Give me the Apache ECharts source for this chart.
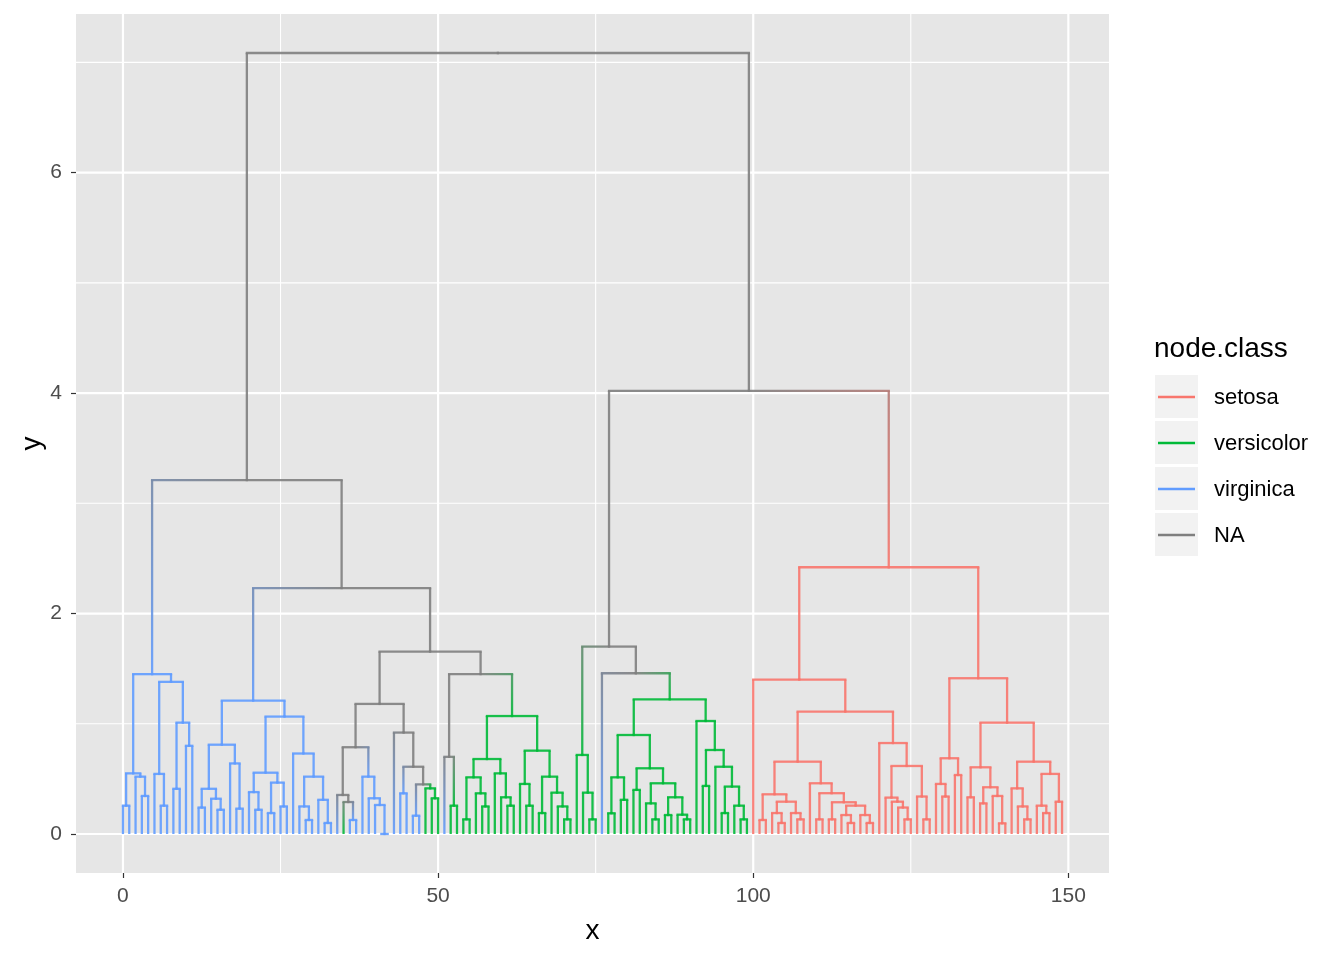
<!DOCTYPE html>
<html><head><meta charset="utf-8">
<script src="https://cdn.jsdelivr.net/npm/echarts@6/dist/echarts.min.js"></script>
<style>html,body{margin:0;padding:0;background:#fff}#c{width:1344px;height:960px}</style>
</head><body><div id="c"></div>
<script>
// class names and colours (ggplot default hues, NA = grey50)
const classNames = ['setosa','versicolor','virginica','NA'];
const classColors = ['#F8766D','#00BA38','#619CFF','#7F7F7F'];
const xTicks = [0, 50, 100, 150];
const yTicks = [0, 2, 4, 6];
const xMinor = [25, 75, 125];
const yMinor = [1, 3, 5, 7];
// species of each leaf in display order: 0 setosa, 1 versicolor, 2 virginica
const leafClass = [
 2,2,2,2,2,2,2,2,2,2, 2,2,2,2,2,2,2,2,2,2,
 2,2,2,2,2,2,2,2,2,2, 2,2,2,2,2,1,2,2,2,2,
 2,2,2,2,2,2,2,2,1,1, 1,2,1,1,1,1,1,1,1,1,
 1,1,1,1,1,1,1,1,1,1, 1,1,1,1,1,1,2,1,1,1,
 1,1,1,1,1,1,1,1,1,1, 1,1,1,1,1,1,1,1,1,1,
 0,0,0,0,0,0,0,0,0,0, 0,0,0,0,0,0,0,0,0,0,
 0,0,0,0,0,0,0,0,0,0, 0,0,0,0,0,0,0,0,0,0,
 0,0,0,0,0,0,0,0,0,0, 0,0,0,0,0,0,0,0,0,0
];
// merges: [child A, child B, height]; numbers are leaves, 'mK' is the K-th merge
const merges = [
 [0,1,0.257],[3,4,0.345],[2,'m2',0.52],['m1','m3',0.55],[6,7,0.257],
 [5,'m5',0.545],[8,9,0.41],[10,11,0.80],['m7','m8',1.01],['m6','m9',1.38],
 ['m4','m10',1.45],[12,13,0.24],[15,16,0.22],[14,'m13',0.32],['m12','m14',0.41],
 [18,19,0.23],[17,'m16',0.64],['m15','m17',0.81],[21,22,0.22],[20,'m19',0.38],
 [23,24,0.19],[25,26,0.25],['m21','m22',0.466],['m20','m23',0.556],[29,30,0.127],
 [28,'m25',0.25],[32,33,0.10],[31,'m27',0.31],['m26','m28',0.52],[27,'m29',0.73],
 ['m24','m30',1.065],['m18','m31',1.21],[36,37,0.127],[35,'m33',0.29],[34,'m34',0.354],
 [41,42,0],[40,'m36',0.263],[39,'m37',0.324],[38,'m38',0.52],['m35','m39',0.787],
 [44,45,0.369],[46,47,0.166],[49,50,0.324],[48,'m43',0.414],['m42','m44',0.45],
 ['m41','m45',0.61],[43,'m46',0.92],['m40','m47',1.18],[52,53,0.257],[51,'m49',0.70],
 [54,55,0.133],[57,58,0.25],[56,'m52',0.369],['m51','m53',0.514],[61,62,0.257],
 [60,'m55',0.333],[59,'m56',0.55],['m54','m57',0.68],[64,65,0.257],[63,'m59',0.454],
 [66,67,0.19],[70,71,0.133],[69,'m62',0.25],[68,'m63',0.375],['m61','m64',0.52],
 ['m60','m65',0.756],['m58','m66',1.07],['m50','m67',1.45],['m48','m68',1.655],['m32','m69',2.23],
 ['m11','m70',3.21],[74,75,0.133],[73,'m72',0.375],[72,'m73',0.717],[77,78,0.188],
 [79,80,0.31],['m75','m76',0.514],[81,82,0.40],[84,85,0.133],[83,'m79',0.278],
 [86,87,0.172],[89,90,0.133],[88,'m82',0.175],['m81','m83',0.333],['m80','m84',0.46],
 ['m78','m85',0.596],['m77','m86',0.898],[92,93,0.436],[95,96,0.19],[98,99,0.133],
 [97,'m90',0.257],['m89','m91',0.43],[94,'m92',0.61],['m88','m93',0.762],[91,'m94',1.025],
 ['m87','m95',1.222],[76,'m96',1.458],['m74','m97',1.70],[101,102,0.127],[104,105,0.10],
 [103,'m100',0.19],[107,108,0.133],[106,'m102',0.19],['m101','m103',0.293],['m99','m104',0.36],
 [110,111,0.133],[112,113,0.133],[115,116,0.10],[114,'m108',0.172],[118,119,0.10],
 [117,'m110',0.172],['m109','m111',0.257],['m107','m112',0.288],['m106','m113',0.37],[109,'m114',0.46],
 ['m105','m115',0.656],[124,125,0.133],[123,'m117',0.24],[122,'m118',0.293],[121,'m119',0.33],
 [127,128,0.133],[126,'m121',0.34],['m120','m122',0.617],[120,'m123',0.825],['m116','m124',1.11],
 [100,'m125',1.40],[130,131,0.34],[129,'m127',0.454],[132,133,0.535],['m128','m129',0.687],
 [134,135,0.333],[136,137,0.278],[139,140,0.097],[138,'m133',0.345],['m132','m134',0.424],
 ['m131','m135',0.605],[143,144,0.133],[142,'m137',0.25],[141,'m138',0.414],[146,147,0.19],
 [145,'m140',0.257],[148,149,0.293],['m141','m142',0.545],['m139','m143',0.656],['m136','m144',1.01],
 ['m130','m145',1.413],['m126','m146',2.42],['m98','m147',4.02],['m71','m148',7.085]
];

// ---- build node positions (leaf x = order, node x = mean of children) ----
const nodes = [];
function getNode(ref){
  if (typeof ref === 'number') return {x: ref, h: 0, cls: leafClass[ref]};
  return nodes[parseInt(ref.slice(1), 10) - 1];
}
const edges = [];
merges.forEach(function(m){
  const a = getNode(m[0]), b = getNode(m[1]);
  const cls = (a.cls === b.cls && a.cls !== 3) ? a.cls : 3;
  const node = {x: (a.x + b.x) / 2, h: m[2], cls: cls};
  nodes.push(node);
  [a, b].forEach(function(c){ edges.push([node.x, node.h, c.x, c.h, node.cls, c.cls]); });
});

function hexToRgb(h){ return [1,3,5].map(function(i){ return parseInt(h.substr(i,2),16); }); }
function mix(a, b, t){
  const A = hexToRgb(a), B = hexToRgb(b);
  return 'rgb(' + A.map(function(v,i){ return Math.round(v + (B[i]-v)*t); }).join(',') + ')';
}
function strokeFor(p, q, ca, cb){
  const d = Math.abs(p[0]-q[0]) + Math.abs(p[1]-q[1]);
  if (ca === cb || d < 0.5) return cb;
  return new echarts.graphic.LinearGradient(p[0], p[1], q[0], q[1],
    [{offset:0, color:ca},{offset:1, color:cb}], true);
}

const gridLines = [];
xTicks.forEach(function(v){ gridLines.push([0, v, 1]); });
xMinor.forEach(function(v){ gridLines.push([0, v, 0]); });
yTicks.forEach(function(v){ gridLines.push([1, v, 1]); });
yMinor.forEach(function(v){ gridLines.push([1, v, 0]); });

const X_MIN = -7.45, X_MAX = 156.45, Y_MIN = -0.354, Y_MAX = 7.439;
const FONT = 'Liberation Sans, Arial, sans-serif';

const chart = echarts.init(document.getElementById('c'), null, {renderer: 'canvas'});

const graphic = [{
  type: 'text', left: 1154, top: 335,
  style: {text: 'node.class', fontSize: 28, fill: '#000', fontFamily: FONT}
}];
classNames.forEach(function(name, i){
  const cy = 397 + 46 * i;
  graphic.push({type:'rect', shape:{x:1155, y:cy-22, width:43, height:43}, style:{fill:'#F2F2F2'}});
  graphic.push({type:'line', shape:{x1:1158, y1:cy, x2:1195, y2:cy}, style:{stroke:classColors[i], lineWidth:2.3}});
  graphic.push({type:'text', x:1214, y:cy + 1, style:{text:name, fontSize:22, fill:'#000', fontFamily:FONT, verticalAlign:'middle'}});
});

chart.setOption({
  animation: false,
  graphic: graphic,
  grid: {left: 76, right: 235, top: 14, bottom: 87, show: true, backgroundColor: '#E6E6E6', borderWidth: 0, containLabel: false},
  xAxis: {
    type: 'value', min: X_MIN, max: X_MAX,
    splitLine: {show: false},
    axisLine: {show: false, onZero: false},
    axisTick: {show: true, customValues: xTicks, length: 5, lineStyle: {color: '#333333', width: 1.2}},
    axisLabel: {customValues: xTicks, color: '#4D4D4D', fontSize: 21, margin: 13, fontFamily: FONT},
    name: 'x', nameLocation: 'middle', nameGap: 44, nameMoveOverlap: false,
    nameTextStyle: {fontSize: 28, color: '#000', fontFamily: FONT}
  },
  yAxis: {
    type: 'value', min: Y_MIN, max: Y_MAX,
    splitLine: {show: false},
    axisLine: {show: false, onZero: false},
    axisTick: {show: true, customValues: yTicks, length: 5, lineStyle: {color: '#333333', width: 1.2}},
    axisLabel: {customValues: yTicks, color: '#4D4D4D', fontSize: 21, margin: 14, fontFamily: FONT},
    name: 'y', nameLocation: 'middle', nameGap: 30, nameRotate: 90, nameMoveOverlap: false,
    nameTextStyle: {fontSize: 28, color: '#000', fontFamily: FONT}
  },
  series: [{
    type: 'custom', z: 1, silent: true,
    data: gridLines,
    renderItem: function(params, api){
      const axis = api.value(0), v = api.value(1), major = api.value(2);
      let p, q;
      if (axis === 0) { p = api.coord([v, Y_MIN]); q = api.coord([v, Y_MAX]); }
      else { p = api.coord([X_MIN, v]); q = api.coord([X_MAX, v]); }
      return {type:'line', shape:{x1:p[0], y1:p[1], x2:q[0], y2:q[1]},
        style:{stroke:'#FFFFFF', lineWidth: major ? 2.2 : 1.1}};
    }
  }, {
    type: 'custom', z: 5, silent: true,
    data: edges,
    renderItem: function(params, api){
      const p0 = api.coord([api.value(0), api.value(1)]);
      const p1 = api.coord([api.value(2), api.value(1)]);
      const p2 = api.coord([api.value(2), api.value(3)]);
      const cp = classColors[api.value(4)], cc = classColors[api.value(5)];
      const lh = Math.abs(p1[0]-p0[0]), lv = Math.abs(p2[1]-p1[1]);
      const t = (lh + lv) > 0 ? lh / (lh + lv) : 1;
      const cm = (cp === cc) ? cc : mix(cp, cc, t);
      const cpS = (cp === cc) ? cc : mix(cp, cc, 0);
      const ccS = (cp === cc) ? cc : mix(cp, cc, 1);
      return {type:'group', children:[
        {type:'line', shape:{x1:p0[0], y1:p0[1], x2:p1[0], y2:p1[1]},
          style:{stroke: strokeFor(p0, p1, cpS, cm), lineWidth: 2.3, lineCap: 'square', opacity: 0.9}},
        {type:'line', shape:{x1:p1[0], y1:p1[1], x2:p2[0], y2:p2[1]},
          style:{stroke: strokeFor(p1, p2, cm, ccS), lineWidth: 2.3, lineCap: 'butt', opacity: 0.9}}
      ]};
    }
  }]
});
</script></body></html>
